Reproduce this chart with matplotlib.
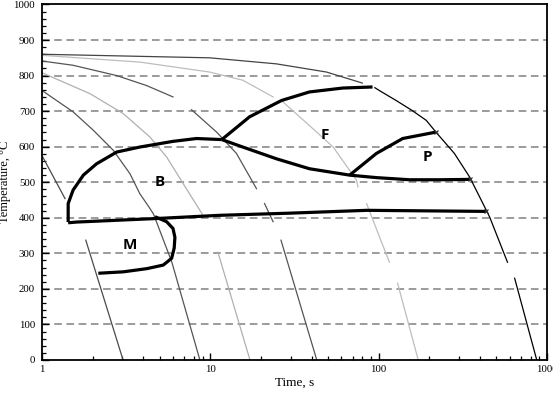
import numpy as np
import matplotlib
matplotlib.use("Agg")
import matplotlib.pyplot as plt
from matplotlib.ticker import MultipleLocator, LogLocator, NullFormatter, FixedLocator, FixedFormatter

nan = np.nan

# cooling curves (time s, temperature C); nan = gap in the drawn line
cool_a_t = [1.01, 1.37, nan, 1.82, 3.03]
cool_a_T = [571, 454, nan, 337, 0]

cool_b_t = [1.0, 1.53, 2.02, 2.65, 3.33, 3.81, 4.38, 4.6, 5.9, 8.67]
cool_b_T = [758, 698, 646, 590, 524, 468, 426, 410, 276, 0]

cool_c_t = [1.0, 1.93, 3.04, 4.38, 5.5, 6.9, 9.05, nan, 11.1, 17.2]
cool_c_T = [808, 749, 693, 627, 571, 496, 407, nan, 303, 0]

cool_d_t = [1.0, 1.53, 2.78, 4.18, 6.0, nan, 7.73, 10.9, 14.3, 18.8, nan, 21.0, 23.6, nan, 26.3, 42.9]
cool_d_T = [841, 829, 800, 772, 740, nan, 704, 641, 581, 482, nan, 440, 389, nan, 337, 0]

cool_e_t = [1.0, 3.81, 9.9, 15.6, 23.6, nan, 27, 40.6, 53.7, 73.9, 75.4, nan, 84.8, 103, 116, nan, 129.6, 172]
cool_e_T = [857, 838, 810, 787, 740, nan, 726, 651, 599, 506, 487, nan, 440, 337, 275, nan, 216, 0]

cool_f_top_t = [1.0, 9.9, 24.7, 49, 80]
cool_f_top_T = [860, 850, 833, 810, 779]

cool_f_low_t = [95, 101, 127, 158, 192, 219, 282, 347, 398, 457, 583, nan, 643, 870]
cool_f_low_T = [766, 758, 730, 702, 674, 641, 581, 515, 459, 402, 275, nan, 230, 0]

# transformation boundaries
bs_t = [1.43, 1.43, 1.53, 1.76, 2.11, 2.78, 3.81, 6.0, 8.27, 11.7]
bs_T = [388, 440, 478, 520, 552, 585, 599, 615, 623, 620]

fs_t = [11.7, 17.1, 26.5, 38.8, 61.3, 92]
fs_T = [620, 684, 730, 754, 765, 768]

ff_t = [11.7, 15.6, 24.7, 38.8, 67.3, 97, 153, 230, 349]
ff_T = [620, 599, 566, 538, 520, 513, 507, 507, 508]

ps_t = [67.3, 97, 139, 219]
ps_T = [520, 581, 623, 641]

bf_t = [1.43, 1.6, 4.8, 11.4, 29.5, 85, 437]
bf_T = [386, 388, 398, 407, 413, 421, 418]

ms_t = [4.69, 5.5, 6.0, 6.16, 6.1, 5.89, 5.25, 4.2, 3.04, 2.16]
ms_T = [403, 389, 370, 345, 315, 286, 267, 257, 248, 244]

end_t = [219, 349, 437]
end_T = [641, 508, 418]

labels = ["B", "M", "F", "P"]
label_t = [5.0, 3.33, 47.7, 195]
label_T = [500, 323, 632, 570]

plt.rcParams["font.family"] = ["Liberation Serif", "DejaVu Serif"]

fig = plt.figure(figsize=(5.53, 3.94), dpi=100)
ax = fig.add_axes([0.076, 0.0863, 0.913, 0.9023])

for y in range(100, 1000, 100):
    ax.axhline(y, color="#808080", lw=1.1, ls=(0, (5, 3)), zorder=1)

ax.plot(cool_a_t, cool_a_T, color="#4a4a4a", lw=0.9, zorder=2)
ax.plot(cool_b_t, cool_b_T, color="#555555", lw=0.9, zorder=2)
ax.plot(cool_c_t, cool_c_T, color="#b0b0b0", lw=0.9, zorder=2)
ax.plot(cool_d_t, cool_d_T, color="#555555", lw=0.9, zorder=2)
ax.plot(cool_e_t, cool_e_T, color="#bdbdbd", lw=0.9, zorder=2)
ax.plot(cool_f_top_t, cool_f_top_T, color="#444444", lw=0.9, zorder=2)
ax.plot(cool_f_low_t, cool_f_low_T, color="black", lw=0.9, zorder=2)

for t, T in [(bs_t, bs_T), (fs_t, fs_T), (ff_t, ff_T), (ps_t, ps_T), (bf_t, bf_T), (ms_t, ms_T)]:
    ax.plot(t, T, color="black", lw=2.3, solid_joinstyle="round", solid_capstyle="butt", zorder=3)

ax.plot(end_t, end_T, ls="none", marker="x", ms=3.5, mew=0.9, color="#333333", zorder=4)

for s, t, T in zip(labels, label_t, label_T):
    ax.text(t, T, s, family="Open Sans", fontweight="bold", fontsize=11,
            ha="center", va="center", zorder=5)

ax.set_xscale("log")
ax.set_xlim(1, 1000)
ax.set_ylim(0, 1000)
ax.xaxis.set_major_locator(FixedLocator([1, 10, 100, 1000]))
ax.xaxis.set_major_formatter(FixedFormatter(["1", "10", "100", "1000"]))
ax.xaxis.set_minor_locator(LogLocator(base=10, subs=np.arange(2, 10)))
ax.xaxis.set_minor_formatter(NullFormatter())
ax.yaxis.set_major_locator(MultipleLocator(100))
ax.yaxis.set_minor_locator(MultipleLocator(20))

ax.tick_params(which="both", direction="in", labelsize=7.8, color="black")
ax.tick_params(which="major", length=5, width=1)
ax.tick_params(which="minor", length=3, width=0.9)
ax.tick_params(axis="y", pad=5)

for sp in ax.spines.values():
    sp.set_linewidth(1.3)

ax.set_xlabel("Time, s", fontsize=9.5, labelpad=2)
ax.set_ylabel("Temperature, °C", fontsize=9)
ax.yaxis.set_label_coords(-0.062, 0.5)

fig.savefig("out.png", dpi=100)
